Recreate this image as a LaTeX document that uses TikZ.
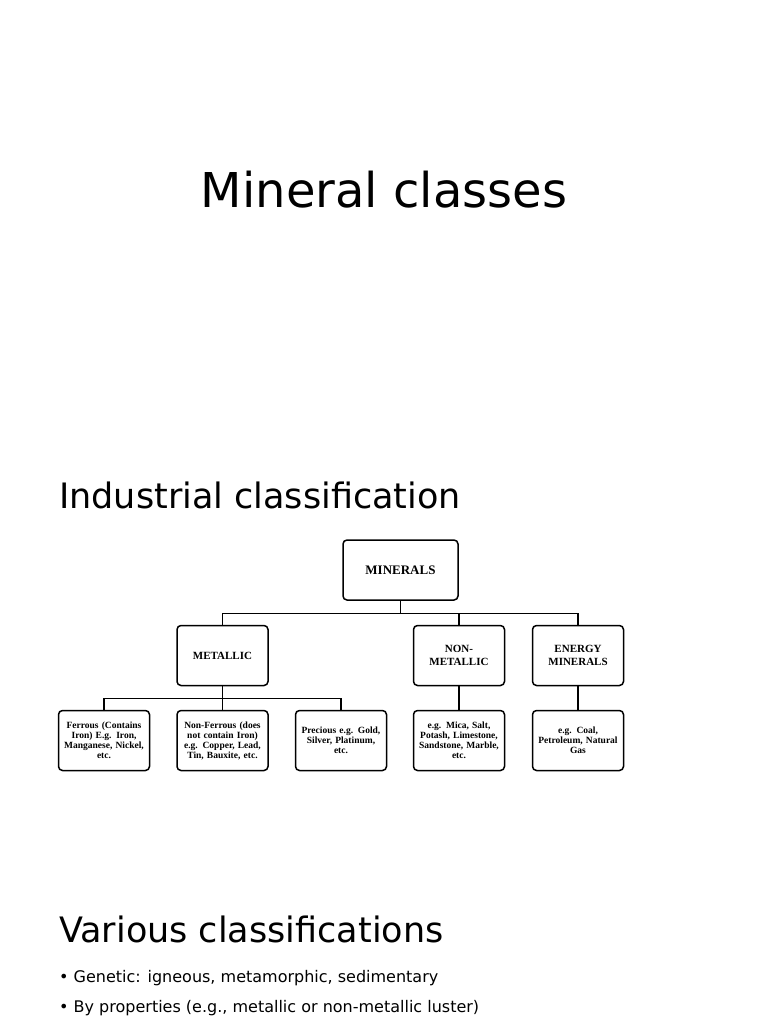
\documentclass[tikz,border=0pt]{standalone}
\usepackage{fontspec}
\setmainfont{DejaVu Sans}
\newfontfamily\boxfont{Liberation Serif}
\begin{document}
\begin{tikzpicture}[x=1pt,y=-1pt,
  bx/.style={draw,line width=1.5pt,rounded corners=4pt,minimum width=91pt,minimum height=60pt,text width=89pt,align=center,inner sep=1pt,font=\boxfont\bfseries\fontsize{9.5}{10}\selectfont},
  ln/.style={line width=1.3pt}]
\useasboundingbox (0,0) rectangle (768,1024);
\node[anchor=base] (t) at (384,208) {\fontsize{48}{54}\selectfont Mineral classes};
\node[anchor=base west,inner sep=0] (h1) at (59,508) {\fontsize{35}{40}\selectfont Industrial classification};
\node[anchor=base west,inner sep=0] (h2) at (59,942) {\fontsize{35}{40}\selectfont Various classifications};
\node[anchor=base west,inner sep=0] (b1) at (59,982) {\fontsize{16}{20}\selectfont • Genetic: igneous, metamorphic, sedimentary};
\node[anchor=base west,inner sep=0] (b2) at (59,1012) {\fontsize{16}{20}\selectfont • By properties (e.g., metallic or non-metallic luster)};
\node[bx,minimum width=115pt,text width=110pt,font=\boxfont\bfseries\fontsize{13}{15}\selectfont] (m) at (400.5,570) {MINERALS};
\node[bx,font=\boxfont\bfseries\fontsize{11}{13}\selectfont] (met) at (222.5,655.5) {METALLIC};
\node[bx,font=\boxfont\bfseries\fontsize{11}{13}\selectfont] (non) at (459,655.5) {NON-\\METALLIC};
\node[bx,font=\boxfont\bfseries\fontsize{11}{13}\selectfont] (en) at (578,655.5) {ENERGY\\MINERALS};
\node[bx] (f) at (104,740.5) {Ferrous (Contains\\Iron) E.g. Iron,\\Manganese, Nickel,\\etc.};
\node[bx] (nf) at (222.5,740.5) {Non-Ferrous (does\\not contain Iron)\\e.g. Copper, Lead,\\Tin, Bauxite, etc.};
\node[bx] (p) at (341,740.5) {Precious e.g. Gold,\\Silver, Platinum,\\etc.};
\node[bx] (ne) at (459,740.5) {e.g. Mica, Salt,\\Potash, Limestone,\\Sandstone, Marble,\\etc.};
\node[bx] (ee) at (578,740.5) {e.g. Coal,\\Petroleum, Natural\\Gas};
\draw[ln] (m.south) -- ++(0,13) -| (met.north);
\draw[ln] (m.south) -- ++(0,13) -| (non.north);
\draw[ln] (m.south) -- ++(0,13) -| (en.north);
\draw[ln] (met.south) -- ++(0,12) -| (f.north);
\draw[ln] (met.south) -- (nf.north);
\draw[ln] (met.south) -- ++(0,12) -| (p.north);
\draw[ln] (non.south) -- (ne.north);
\draw[ln] (en.south) -- (ee.north);
\end{tikzpicture}
\end{document}
